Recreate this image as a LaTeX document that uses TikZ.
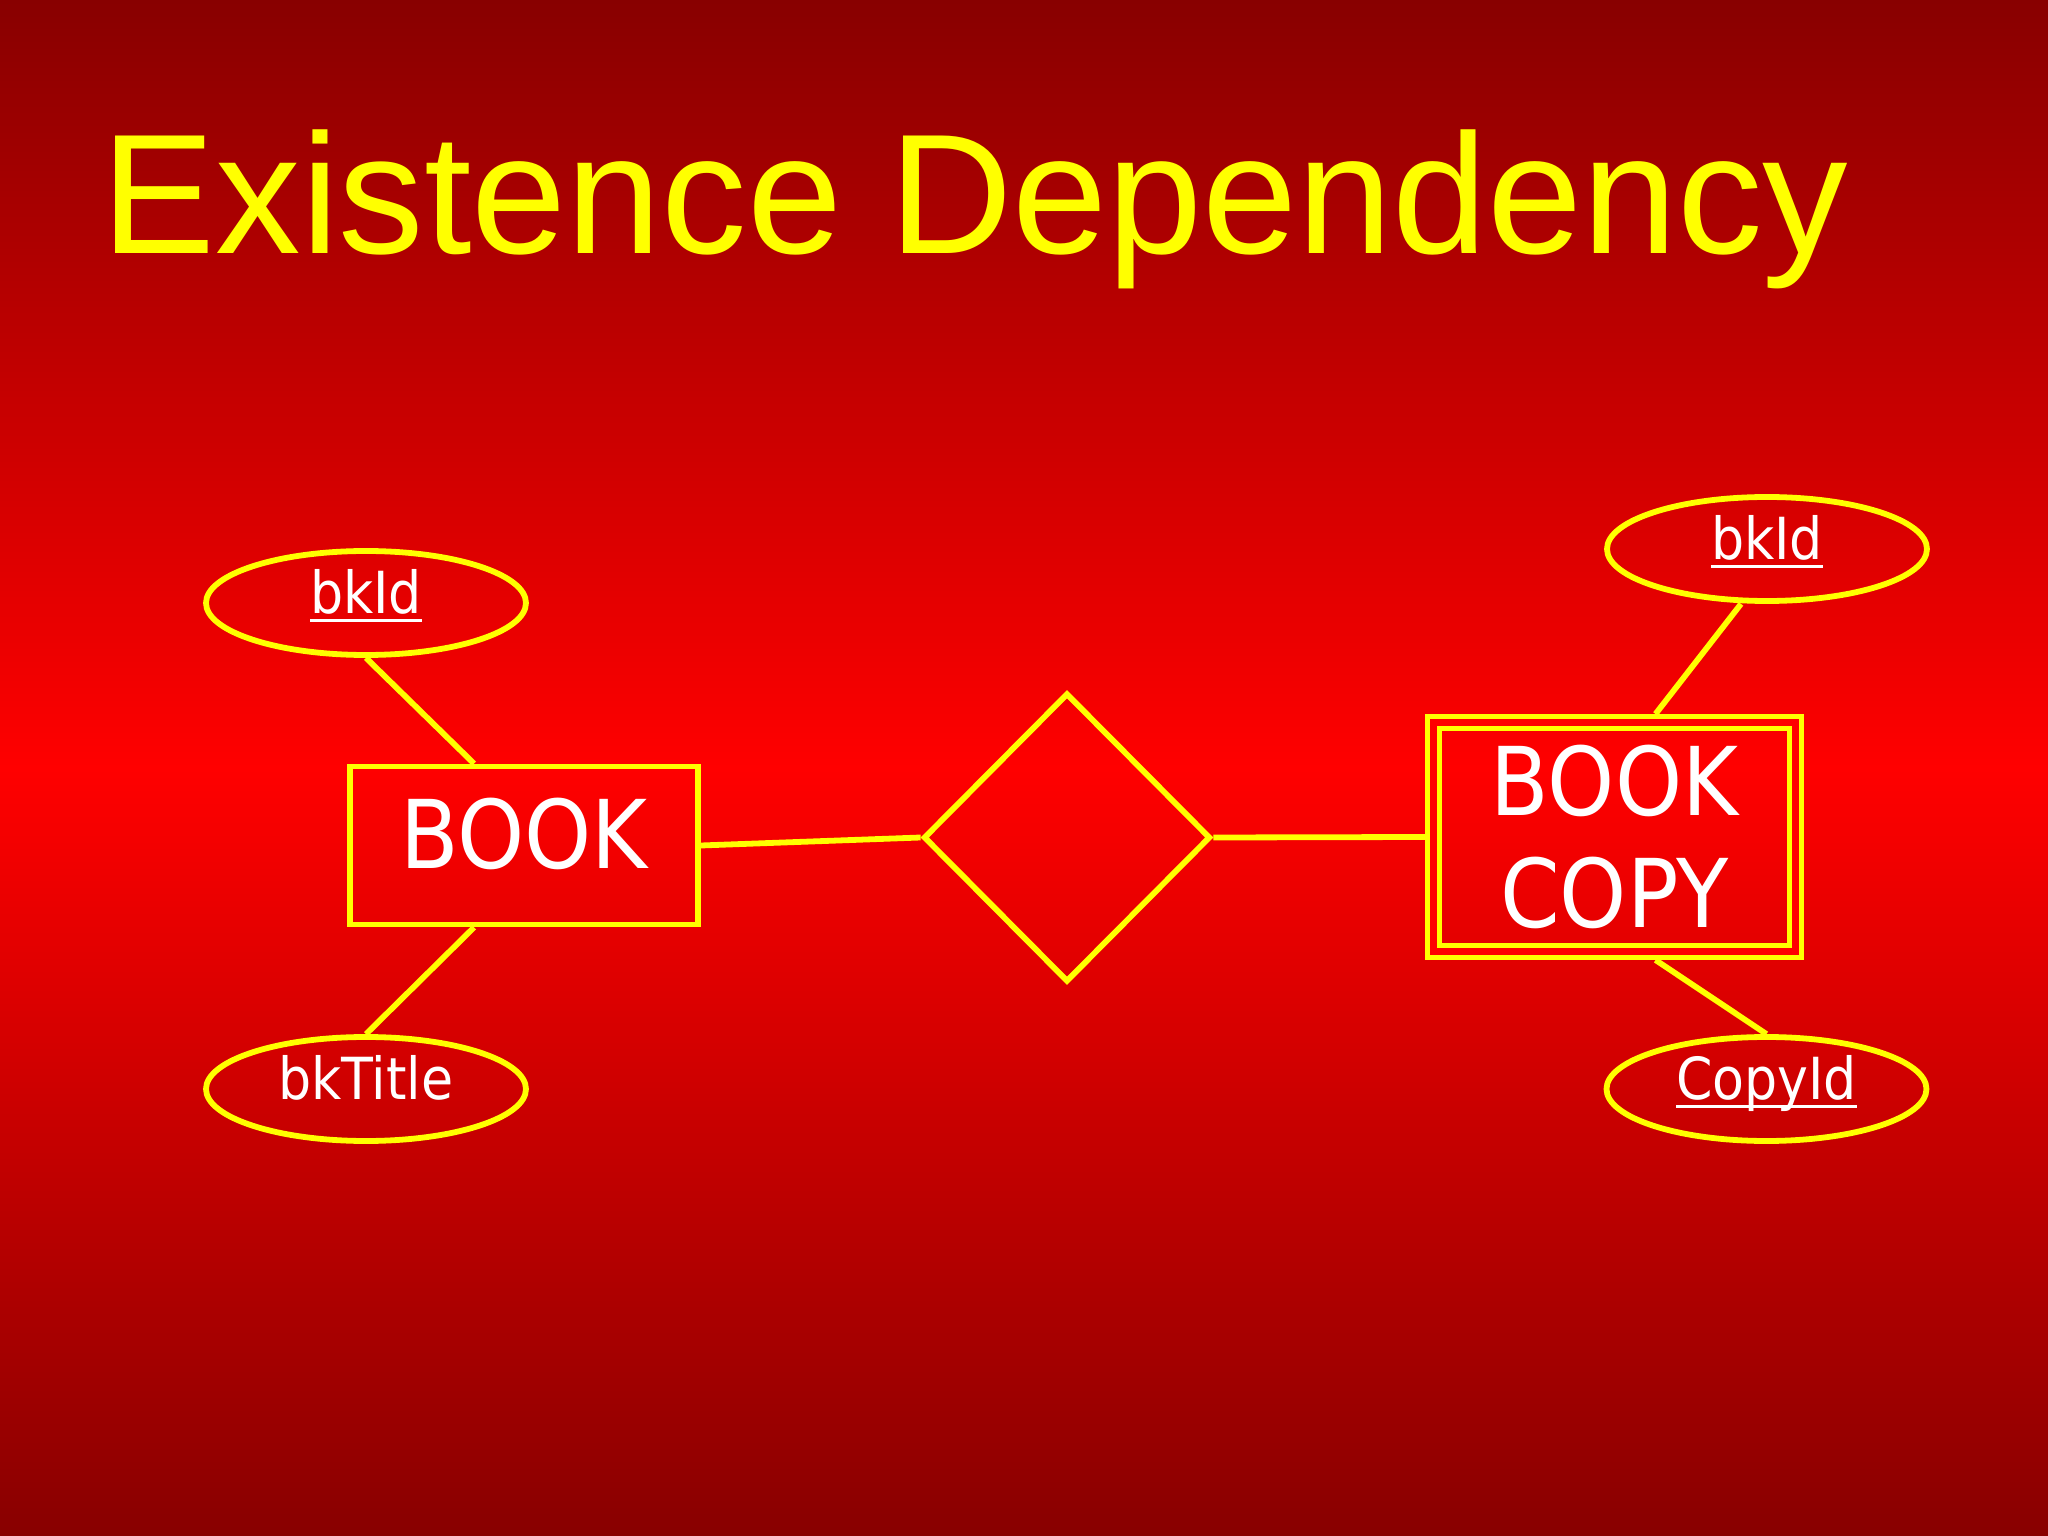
\documentclass[tikz,border=0pt]{standalone}
\usepackage{fontspec}
\usepackage{tikz}
\usetikzlibrary{shapes.geometric}
\newfontfamily\titlefont{Liberation Sans}
\newfontfamily\erfont{DejaVu Sans Condensed}
\definecolor{bgdark}{RGB}{136,0,0}
\definecolor{bgred}{RGB}{255,0,0}
\definecolor{lineyellow}{RGB}{255,255,0}
\newcommand{\keyattr}[1]{\setbox0\hbox{#1}\rlap{\rule[-2.4pt]{\wd0}{0.9pt}}\box0}
\tikzset{
  erline/.style={draw=lineyellow, line width=0.058cm},
  entity/.style={rectangle, erline, text=white, minimum width=3.48cm, minimum height=1.58cm,
    text depth=0.24cm, font=\erfont\fontsize{27}{32}\selectfont},
  weakentity/.style={entity, text depth=, line width=0.05cm, double=bgred, double distance=0.07cm,
    outer sep=0.085cm, align=center, minimum width=3.62cm, minimum height=2.29cm},
  relation/.style={diamond, erline, minimum width=2.87cm, minimum height=2.89cm, inner sep=0pt},
  attribute/.style={ellipse, erline, text=white, minimum width=3.2cm, minimum height=1.04cm,
    inner sep=0pt, text height=0.45cm, text depth=0.24cm, font=\erfont\fontsize{16.5}{20}\selectfont}
}
\begin{document}
\begin{tikzpicture}
  \useasboundingbox (0,0) rectangle (20.48,-15.36);
  \shade[top color=bgdark, bottom color=bgdark, middle color=bgred] (0,0) rectangle (20.48,-15.36);
  \node (title) [anchor=base west, inner sep=0pt, text=lineyellow, font=\titlefont\fontsize{48.6}{56}\selectfont]
    at (1.01,-2.54) {Existence Dependency};
  % entities and relationship
  \node (book) [entity] at (5.24,-8.455) {BOOK};
  \node (owns) [relation] at (10.67,-8.375) {};
  \node (bookcopy) [weakentity] at (16.145,-8.37) {BOOK\\COPY};
  % attributes
  \node (bookid) [attribute] at (3.66,-6.03) {\keyattr{bkId}};
  \node (booktitle) [attribute] at (3.66,-10.89) {bkTitle};
  \node (copybookid) [attribute] at (17.67,-5.49) {\keyattr{bkId}};
  \node (copyid) [attribute] at (17.665,-10.89) {\keyattr{CopyId}};
  \draw[erline] (book.east) -- (owns.west);
  \draw[erline] (owns.east) -- (bookcopy.west);
  \draw[erline] (bookid.south) -- ([xshift=-0.5cm]book.north);
  \draw[erline] ([xshift=-0.5cm]book.south) -- (booktitle.north);
  \draw[erline] ([xshift=-0.26cm]copybookid.south) -- ([xshift=0.41cm]bookcopy.north);
  \draw[erline] ([xshift=0.41cm]bookcopy.south) -- (copyid.north);
\end{tikzpicture}
\end{document}
